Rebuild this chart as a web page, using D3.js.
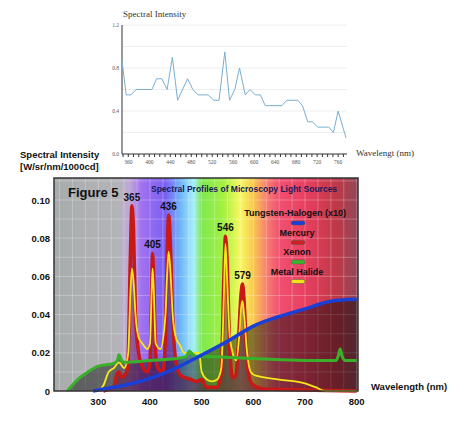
<!DOCTYPE html>
<html><head><meta charset="utf-8">
<script src="https://cdn.jsdelivr.net/npm/d3@7"></script>
<style>body{margin:0;background:#fff}svg{display:block}</style>
</head><body>
<svg id="c" width="474" height="422"></svg>
<script>
// top chart
const topNm = [348,356,365,375,405,414,424,434,444,454,473,483,493,512,523,533,544,553,563,572,583,592,602,612,621,653,662,683,692,702,711,721,742,751,760,775];
const topVal = [0.87,0.55,0.55,0.6,0.6,0.7,0.7,0.6,0.9,0.5,0.7,0.6,0.55,0.55,0.5,0.5,0.95,0.5,0.6,0.8,0.55,0.6,0.55,0.55,0.45,0.45,0.5,0.5,0.45,0.3,0.3,0.25,0.25,0.2,0.4,0.15];
const topTicksX = [360,400,440,480,520,560,600,640,680,720,760];
const topTicksY = [0,0.4,0.8,1.2];

// bottom chart
const tungNm = [290,300,350,400,450,500,550,600,650,700,750,800];
const tungVal = [0,0.0005,0.003,0.0066,0.012,0.0188,0.026,0.034,0.039,0.043,0.047,0.048];
const xenNm = [240,260,280,300,330,337,340,345,350,400,450,470,476,480,490,500,600,700,760,765,768,772,778,800];
const xenVal = [0,0.006,0.010,0.013,0.0145,0.016,0.019,0.016,0.015,0.016,0.017,0.018,0.021,0.020,0.018,0.018,0.017,0.016,0.016,0.019,0.022,0.018,0.016,0.016];
const hgNm = [310,330,335,340,345,350,355,358,362,365,368,372,377,382,395,400,403,405,407,411,415,425,430,433,436,439,443,448,453,460,480,490,500,510,530,538,543,546,549,554,560,566,571,576,579,582,587,593,600,620,800];
const hgVal = [0,0.002,0.008,0.01,0.007,0.008,0.01,0.02,0.07,0.097,0.085,0.04,0.022,0.015,0.01,0.015,0.05,0.072,0.06,0.02,0.012,0.01,0.03,0.07,0.092,0.08,0.045,0.02,0.012,0.008,0.006,0.005,0.006,0.002,0.002,0.01,0.06,0.081,0.07,0.025,0.007,0.008,0.025,0.05,0.056,0.048,0.02,0.006,0.003,0.001,0];
const mhNm = [300,310,320,330,340,350,358,362,365,368,372,378,385,395,400,403,405,407,411,420,430,433,436,439,444,450,458,466,480,495,500,510,520,530,538,543,546,549,554,560,567,573,577,579,582,588,595,605,650,700,720,740,800];
const mhVal = [0,0.003,0.01,0.012,0.015,0.012,0.02,0.05,0.064,0.058,0.04,0.028,0.025,0.022,0.025,0.05,0.064,0.055,0.025,0.022,0.04,0.06,0.073,0.065,0.04,0.028,0.024,0.02,0.02,0.02,0.01,0.006,0.005,0.006,0.012,0.05,0.077,0.06,0.03,0.02,0.016,0.03,0.045,0.047,0.04,0.02,0.01,0.008,0.006,0.004,0.002,0,0];
const peaks = [365,405,436,546,579];
const peakVal = [0.097,0.072,0.092,0.081,0.056];
const botTicksX = [300,400,500,600,700,800];
const botTicksY = [0,0.02,0.04,0.06,0.08,0.10];
const legendNames = ["Tungsten-Halogen (x10)","Mercury","Xenon","Metal Halide"];
const legendColors = ["#1a3fd6","#d22020","#3cb52a","#f2e21a"];

const svg = d3.select("#c");

// ---- top chart
const tx = d3.scaleLinear().domain([348,775]).range([122,346]);
const ty = d3.scaleLinear().domain([0,1.2]).range([154,25]);
const tg = svg.append("g").style("font-family","Liberation Serif");
tg.selectAll(".gl").data(d3.range(0.2,1.21,0.2)).enter().append("line")
  .attr("x1",122).attr("x2",347).attr("y1",d=>ty(d)).attr("y2",d=>ty(d)).attr("stroke","#eee");
tg.append("line").attr("x1",122).attr("x2",122).attr("y1",25).attr("y2",154).attr("stroke","#333");
tg.append("line").attr("x1",122).attr("x2",347).attr("y1",154).attr("y2",154).attr("stroke","#333");
tg.selectAll(".tk").data(d3.range(350,780,10)).enter().append("line")
  .attr("x1",d=>tx(d)).attr("x2",d=>tx(d)).attr("y1",154).attr("y2",157).attr("stroke","#333");
tg.selectAll(".tl").data(topTicksX).enter().append("text").attr("x",d=>tx(d)).attr("y",164)
  .attr("text-anchor","middle").attr("font-size",5.5).attr("fill","#555").text(d=>d);
tg.selectAll(".yl").data(topTicksY).enter().append("text").attr("x",119).attr("y",d=>ty(d)+2)
  .attr("text-anchor","end").attr("font-size",5.5).attr("fill","#555").text(d=>d.toFixed(1));
tg.append("path").datum(topNm.map((n,i)=>[n,topVal[i]])).attr("fill","none").attr("stroke","#7aaed0").attr("stroke-width",1)
  .attr("d",d3.line().x(d=>tx(d[0])).y(d=>ty(d[1])));
tg.append("text").attr("x",123).attr("y",17).attr("font-size",9).attr("fill","#333").text("Spectral Intensity");
tg.append("text").attr("x",356).attr("y",156).attr("font-size",9).attr("fill","#333").text("Wavelengt (nm)");

// ---- bottom chart
const bx = d3.scaleLinear().domain([300,800]).range([98.3,356.7]);
const by = d3.scaleLinear().domain([0,0.10]).range([391,200]);
const L = 54, R = 358, T = 178, B = 391;
const defs = svg.append("defs");
const grad = defs.append("linearGradient").attr("id","spec").attr("x1",0).attr("x2",1).attr("y1",0).attr("y2",0);
const stops = [[215,"#a8acac"],[340,"#b4b4b8"],[360,"#c0a8d8"],[385,"#a070f0"],[430,"#7a60f0"],[460,"#70b8f8"],[485,"#a8f0f8"],[500,"#80e850"],[540,"#a0f040"],[575,"#f8f860"],[600,"#f8c850"],[625,"#f88070"],[650,"#f05070"],[700,"#e84060"],[760,"#c03848"],[802,"#904858"]];
stops.forEach(s=>grad.append("stop").attr("offset",(bx(s[0])-L)/(R-L)).attr("stop-color",s[1]));
const bg = svg.append("g").style("font-family","Liberation Sans").style("font-weight","bold");
bg.append("rect").attr("x",L).attr("y",T).attr("width",R-L).attr("height",B-T).attr("fill","url(#spec)");
// grid
d3.range(225,801,25).forEach(v=>bg.append("line").attr("x1",bx(v)).attr("x2",bx(v)).attr("y1",T).attr("y2",B).attr("stroke","#fff").attr("stroke-opacity",0.25));
d3.range(0.01,0.111,0.01).forEach(v=>bg.append("line").attr("x1",L).attr("x2",R).attr("y1",by(v)).attr("y2",by(v)).attr("stroke","#fff").attr("stroke-opacity",0.25));
// dark area under max(xenon, tungsten)
const env = d3.range(240,801,5).map(n=>[n,Math.max(d3.scaleLinear().domain(xenNm).range(xenVal).clamp(true)(n), n<290?0:d3.scaleLinear().domain(tungNm).range(tungVal)(n))]);
bg.append("path").datum(env).attr("fill","#000").attr("fill-opacity",0.45)
  .attr("d",d3.area().x(d=>bx(d[0])).y0(B).y1(d=>by(d[1])));
const line = d3.line().x(d=>bx(d[0])).y(d=>by(d[1])).curve(d3.curveMonotoneX);
const hg = hgNm.map((n,i)=>[n,hgVal[i]]);
bg.append("path").datum(hg).attr("fill","#5a1050").attr("fill-opacity",0.45)
  .attr("d",d3.area().x(d=>bx(d[0])).y0(B).y1(d=>by(d[1])).curve(d3.curveMonotoneX));
bg.append("path").datum(hg).attr("fill","none").attr("stroke","#c81818").attr("stroke-width",3.5).attr("d",line);
bg.append("path").datum(mhNm.map((n,i)=>[n,mhVal[i]])).attr("fill","none").attr("stroke","#f5e81c").attr("stroke-width",1.8).attr("d",line);
bg.append("path").datum(xenNm.map((n,i)=>[n,xenVal[i]])).attr("fill","none").attr("stroke","#3ab02a").attr("stroke-width",3).attr("d",line);
bg.append("path").datum(tungNm.map((n,i)=>[n,tungVal[i]])).attr("fill","none").attr("stroke","#1a3fd6").attr("stroke-width",3.5).attr("d",line);
bg.append("rect").attr("x",L).attr("y",T).attr("width",R-L).attr("height",B-T).attr("fill","none").attr("stroke","#333").attr("stroke-width",1.5);
// peak labels
bg.selectAll(".pk").data(peaks).enter().append("text").attr("x",d=>bx(d)).attr("y",(d,i)=>by(peakVal[i])-5)
  .attr("text-anchor","middle").attr("font-size",10).attr("fill","#111").text(d=>d);
// axes
bg.selectAll(".by").data(botTicksY).enter().append("text").attr("x",50).attr("y",d=>by(d)+3.5)
  .attr("text-anchor","end").attr("font-size",9.5).attr("fill","#111").text(d=>d===0?"0":d.toFixed(2));
bg.selectAll(".bxl").data(botTicksX).enter().append("text").attr("x",d=>bx(d)).attr("y",405)
  .attr("text-anchor","middle").attr("font-size",9.5).attr("fill","#111").text(d=>d);
bg.append("text").attr("x",20).attr("y",158).attr("font-size",9.5).attr("fill","#111").text("Spectral Intensity");
bg.append("text").attr("x",20).attr("y",170).attr("font-size",9.5).attr("fill","#111").text("[W/sr/nm/1000cd]");
bg.append("text").attr("x",371).attr("y",390).attr("font-size",9.5).attr("fill","#111").text("Wavelength (nm)");
bg.append("text").attr("x",68).attr("y",197).attr("font-size",13).attr("fill","#111").text("Figure 5");
bg.append("text").attr("x",151).attr("y",192).attr("font-size",8.5).attr("fill","#1a1a5a").text("Spectral Profiles of Microscopy Light Sources");
legendNames.forEach((n,i)=>{
  const y = 216 + i*19.5;
  bg.append("text").attr("x",i===0?346:297).attr("y",y).attr("text-anchor",i===0?"end":"middle")
    .attr("font-size",9).attr("fill","#111").text(n);
  bg.append("rect").attr("x",291).attr("y",y+5).attr("width",14).attr("height",4).attr("rx",2)
    .attr("fill",legendColors[i]).attr("stroke","#555").attr("stroke-width",0.5);
});
</script>
</body></html>
